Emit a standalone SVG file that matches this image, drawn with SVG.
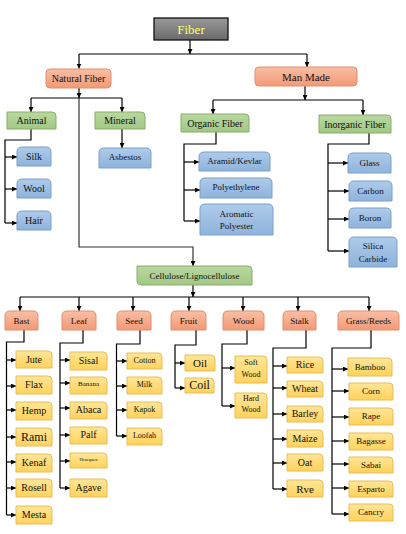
<svg xmlns="http://www.w3.org/2000/svg" width="406" height="534" viewBox="0 0 406 534">
<defs>
<linearGradient id="gGray" x1="0" y1="0" x2="0" y2="1"><stop offset="0" stop-color="#9a9a9a"/><stop offset="1" stop-color="#6a6a6a"/></linearGradient>
<linearGradient id="gSal" x1="0" y1="0" x2="0" y2="1"><stop offset="0" stop-color="#f9bea4"/><stop offset="1" stop-color="#f29a77"/></linearGradient>
<linearGradient id="gGrn" x1="0" y1="0" x2="0" y2="1"><stop offset="0" stop-color="#b9d8a0"/><stop offset="1" stop-color="#a2c884"/></linearGradient>
<linearGradient id="gBlu" x1="0" y1="0" x2="0" y2="1"><stop offset="0" stop-color="#aecbea"/><stop offset="1" stop-color="#8fb3dc"/></linearGradient>
<linearGradient id="gYel" x1="0" y1="0" x2="0" y2="1"><stop offset="0" stop-color="#ffe698"/><stop offset="1" stop-color="#ffd25c"/></linearGradient>
<marker id="ar" markerWidth="5" markerHeight="5" refX="5" refY="2.5" orient="auto" markerUnits="userSpaceOnUse"><path d="M0,0 L5,2.5 L0,5 z" fill="#000"/></marker>
</defs>
<style>
text{font-family:"Liberation Serif","Times New Roman",serif;text-anchor:middle;dominant-baseline:central;fill:#111}
.sal{fill:url(#gSal);stroke:#e48d6c;stroke-width:1}
.grn{fill:url(#gGrn);stroke:#86ad6a;stroke-width:1}
.blu{fill:url(#gBlu);stroke:#7a9fca;stroke-width:1}
.yel{fill:url(#gYel);stroke:#e8bd55;stroke-width:1}
.c path{fill:none;stroke:#000;stroke-width:1.2}
.c .a{marker-end:url(#ar)}
.f10{font-size:10px}.f9{font-size:9px}.f8{font-size:8px}.f11{font-size:11px}
</style>
<rect width="406" height="534" fill="#fff"/>

<g class="c" id="connectors">
<path class="a" d="M190,40 V54"/>
<path d="M79,54 H307"/>
<path class="a" d="M79,54 V68.5"/>
<path class="a" d="M307,54 V67"/>
<path class="a" d="M79,88 V98"/>
<path d="M31,98 H122"/>
<path class="a" d="M31,98 V112"/>
<path class="a" d="M122,98 V112"/>
<path class="a" d="M79,98 V247 H193 V266" style="stroke:#333"/>
<path class="a" d="M305,86 V100"/>
<path d="M213,100 H363"/>
<path class="a" d="M213,100 V114"/>
<path class="a" d="M363,100 V115"/>
<path d="M31,129 V140 H5 V223"/>
<path class="a" d="M5,157 H17"/>
<path class="a" d="M5,189 H17"/>
<path class="a" d="M5,223 H17"/>
<path class="a" d="M122,129 V148"/>
<path d="M216,132 V144 H184 V221"/>
<path class="a" d="M184,162 H199"/>
<path class="a" d="M184,190 H200"/>
<path class="a" d="M184,221 H200"/>
<path d="M369,133 V144 H328 V251"/>
<path class="a" d="M328,163 H348"/>
<path class="a" d="M328,191 H349"/>
<path class="a" d="M328,219 H349"/>
<path class="a" d="M328,251 H349"/>
<path class="a" d="M193,285 V297"/>
<path d="M20,297 H369"/>
<path class="a" d="M20,297 V311"/>
<path class="a" d="M79,297 V311"/>
<path class="a" d="M133,297 V311"/>
<path class="a" d="M189,297 V311"/>
<path class="a" d="M243,297 V311"/>
<path class="a" d="M298,297 V311"/>
<path class="a" d="M369,297 V311"/>
<path d="M24,330 V342 H6.5 V515"/>
<path class="a" d="M6.5,360 H16"/><path class="a" d="M6.5,386 H16"/><path class="a" d="M6.5,410 H16"/><path class="a" d="M6.5,437 H16"/><path class="a" d="M6.5,462 H16"/><path class="a" d="M6.5,488 H16"/><path class="a" d="M6.5,515 H16"/>
<path d="M83,330 V343 H60 V488"/>
<path class="a" d="M60,360 H70"/><path class="a" d="M60,383 H70"/><path class="a" d="M60,408 H70"/><path class="a" d="M60,435 H70"/><path class="a" d="M60,461 H70"/><path class="a" d="M60,488 H70"/>
<path d="M140,330 V344 H116.5 V436"/>
<path class="a" d="M116.5,361 H127"/><path class="a" d="M116.5,386 H127"/><path class="a" d="M116.5,410 H127"/><path class="a" d="M116.5,436 H127"/>
<path d="M196,330 V345 H175 V388"/>
<path class="a" d="M175,363 H185"/><path class="a" d="M175,388 H185"/>
<path d="M247,330 V344 H222 V406"/>
<path class="a" d="M222,368 H235"/><path class="a" d="M222,406 H235"/>
<path d="M306,330 V348 H273 V489"/>
<path class="a" d="M273,366 H287"/><path class="a" d="M273,388 H287"/><path class="a" d="M273,414 H287"/><path class="a" d="M273,439 H287"/><path class="a" d="M273,463 H287"/><path class="a" d="M273,489 H287"/>
<path d="M371,330 V348 H332 V514"/>
<path class="a" d="M332,369 H348"/><path class="a" d="M332,391 H349"/><path class="a" d="M332,417 H349"/><path class="a" d="M332,441 H349"/><path class="a" d="M332,464 H349"/><path class="a" d="M332,488 H349"/><path class="a" d="M332,514 H349"/>
</g>

<g id="fiber"><rect x="154" y="18" width="74" height="22" fill="url(#gGray)" stroke="#111" stroke-width="1.3"/><text x="191" y="29" font-size="13" style="fill:#ffff66">Fiber</text></g>
<g id="natural"><rect class="sal" x="46" y="69" width="65" height="19" rx="4"/><text class="f10" x="78.5" y="78.5">Natural Fiber</text></g>
<g id="manmade"><rect class="sal" x="255" y="67" width="102" height="19" rx="4"/><text class="f11" x="306" y="76.5">Man Made</text></g>

<g id="animal"><path class="grn" d="M7,112 H52 Q56,112 56,116 V129 H7 Z"/><text class="f10" x="31.5" y="120.5">Animal</text></g>
<g id="mineral"><path class="grn" d="M95,112 H141 Q145,112 145,116 V129 H95 Z"/><text class="f10" x="120" y="120.5">Mineral</text></g>
<g id="organic"><path class="grn" d="M181,114 H245 Q249,114 249,118 V132 H181 Z"/><text class="f10" x="215" y="123">Organic Fiber</text></g>
<g id="inorganic"><path class="grn" d="M319,115 H387 Q391,115 391,119 V133 H319 Z"/><text class="f10" x="355" y="124">Inorganic Fiber</text></g>

<g id="silk"><path class="blu" d="M17,152 Q17,147 22,147 H46 Q51,147 51,152 V166 H17 Z"/><text class="f10" x="34" y="156.5">Silk</text></g>
<g id="wool"><path class="blu" d="M17,184 Q17,179 22,179 H46 Q51,179 51,184 V198 H17 Z"/><text class="f10" x="34" y="188.5">Wool</text></g>
<g id="hair"><path class="blu" d="M17,216 Q17,211 22,211 H46 Q51,211 51,216 V230 H17 Z"/><text class="f10" x="34" y="220.5">Hair</text></g>
<g id="asbestos"><path class="blu" d="M99,153 Q99,148 104,148 H146 Q151,148 151,153 V168 H99 Z"/><text class="f9" x="125" y="157">Asbestos</text></g>
<g id="aramid"><path class="blu" d="M199,157 Q199,152 204,152 H265 Q270,152 270,157 V171 H199 Z"/><text class="f9" x="234.5" y="161">Aramid/Kevlar</text></g>
<g id="polyethylene"><path class="blu" d="M200,183 Q200,178 205,178 H267 Q272,178 272,183 V198 H200 Z"/><text class="f9" x="236" y="187">Polyethylene</text></g>
<g id="aromatic"><path class="blu" d="M200,209 Q200,204 205,204 H268 Q273,204 273,209 V235 H200 Z"/><text class="f9" x="236.5" y="213.5">Aromatic</text><text class="f9" x="236.5" y="226">Polyester</text></g>
<g id="glass"><path class="blu" d="M348,158 Q348,153 353,153 H386 Q391,153 391,158 V173 H348 Z"/><text class="f9" x="369.5" y="163">Glass</text></g>
<g id="carbon"><path class="blu" d="M349,186 Q349,181 354,181 H387 Q392,181 392,186 V201 H349 Z"/><text class="f9" x="370.5" y="191">Carbon</text></g>
<g id="boron"><path class="blu" d="M349,213 Q349,208 354,208 H386 Q391,208 391,213 V228 H349 Z"/><text class="f9" x="370" y="218">Boron</text></g>
<g id="silica"><path class="blu" d="M349,242 Q349,237 354,237 H392 Q397,237 397,242 V267 H349 Z"/><text class="f9" x="373" y="246">Silica</text><text class="f9" x="373" y="258.5">Carbide</text></g>

<g id="cellulose"><path class="grn" d="M137,266 H248 Q252,266 252,270 V285 H141 Q137,285 137,281 Z"/><text class="f9" x="194.5" y="275.5">Cellulose/Lignocellulose</text></g>

<g id="bast"><path class="sal" d="M5,316 Q5,311 10,311 H33 Q38,311 38,316 V330 H5 Z"/><text class="f9" x="21.5" y="320.5">Bast</text></g>
<g id="leaf"><path class="sal" d="M62,316 Q62,311 67,311 H91 Q96,311 96,316 V330 H62 Z"/><text class="f9" x="79" y="320.5">Leaf</text></g>
<g id="seed"><path class="sal" d="M117,316 Q117,311 122,311 H146 Q151,311 151,316 V330 H117 Z"/><text class="f9" x="134" y="320.5">Seed</text></g>
<g id="fruit"><path class="sal" d="M171,316 Q171,311 176,311 H201 Q206,311 206,316 V330 H171 Z"/><text class="f9" x="188.5" y="320.5">Fruit</text></g>
<g id="wood"><path class="sal" d="M223,316 Q223,311 228,311 H259 Q264,311 264,316 V330 H223 Z"/><text class="f9" x="243.5" y="320.5">Wood</text></g>
<g id="stalk"><path class="sal" d="M283,316 Q283,311 288,311 H311 Q316,311 316,316 V330 H283 Z"/><text class="f9" x="299.5" y="320.5">Stalk</text></g>
<g id="grass"><path class="sal" d="M338,316 Q338,311 343,311 H394 Q399,311 399,316 V330 H338 Z"/><text class="f9" x="368.5" y="320.5">Grass/Reeds</text></g>

<g id="jute"><path class="yel" d="M16,351 H48 Q52,351 52,355 V368 H16 Z"/><text class="f10" x="34" y="359">Jute</text></g>
<g id="flax"><path class="yel" d="M16,376 H48 Q52,376 52,380 V394 H16 Z"/><text class="f10" x="34" y="384.5">Flax</text></g>
<g id="hemp"><path class="yel" d="M16,402 H48 Q52,402 52,406 V420 H16 Z"/><text class="f10" x="34" y="410.5">Hemp</text></g>
<g id="rami"><path class="yel" d="M16,428 H48 Q52,428 52,432 V446 H16 Z"/><text x="34" y="436.5" font-size="12">Rami</text></g>
<g id="kenaf"><path class="yel" d="M16,454 H48 Q52,454 52,458 V472 H16 Z"/><text class="f10" x="34" y="462.5">Kenaf</text></g>
<g id="rosell"><path class="yel" d="M16,479 H48 Q52,479 52,483 V497 H16 Z"/><text class="f10" x="34" y="487.5">Rosell</text></g>
<g id="mesta"><path class="yel" d="M16,506 H48 Q52,506 52,510 V524 H16 Z"/><text class="f10" x="34" y="514.5">Mesta</text></g>

<g id="sisal"><path class="yel" d="M70,352 H103 Q107,352 107,356 V370 H70 Z"/><text class="f10" x="88.5" y="360.5">Sisal</text></g>
<g id="banana"><path class="yel" d="M70,377 H103 Q107,377 107,381 V394 H70 Z"/><text x="88.5" y="384" font-size="7">Banana</text></g>
<g id="abaca"><path class="yel" d="M70,402 H103 Q107,402 107,406 V419 H70 Z"/><text class="f10" x="88.5" y="409.5">Abaca</text></g>
<g id="palf"><path class="yel" d="M70,427 H103 Q107,427 107,431 V444 H70 Z"/><text class="f10" x="88.5" y="434.5">Palf</text></g>
<g id="henequen"><path class="yel" d="M70,453 H103 Q107,453 107,457 V468 H70 Z"/><text x="88.5" y="459" font-size="4.5">Henequen</text></g>
<g id="agave"><path class="yel" d="M70,479 H103 Q107,479 107,483 V497 H70 Z"/><text class="f10" x="88.5" y="487">Agave</text></g>

<g id="cotton"><path class="yel" d="M127,353 H158 Q162,353 162,357 V369 H127 Z"/><text class="f8" x="144.5" y="360">Cotton</text></g>
<g id="milk"><path class="yel" d="M127,377 H158 Q162,377 162,381 V394 H127 Z"/><text class="f8" x="144.5" y="384.5">Milk</text></g>
<g id="kapok"><path class="yel" d="M127,402 H158 Q162,402 162,406 V418 H127 Z"/><text class="f8" x="144.5" y="409.5">Kapok</text></g>
<g id="loofah"><path class="yel" d="M127,428 H158 Q162,428 162,432 V445 H127 Z"/><text class="f8" x="144.5" y="435.5">Loofah</text></g>

<g id="oil"><path class="yel" d="M185,355 H211 Q215,355 215,359 V371 H185 Z"/><text class="f11" x="200" y="362.5">Oil</text></g>
<g id="coil"><path class="yel" d="M185,378 H210 Q214,378 214,382 V393 H185 Z"/><text x="199.5" y="385" font-size="12">Coil</text></g>

<g id="softwood"><path class="yel" d="M235,356 H263 Q267,356 267,360 V383 H235 Z"/><text class="f8" x="251" y="362.5">Soft</text><text class="f8" x="251" y="374">Wood</text></g>
<g id="hardwood"><path class="yel" d="M235,393 H263 Q267,393 267,397 V418 H235 Z"/><text class="f8" x="251" y="398.5">Hard</text><text class="f8" x="251" y="409.5">Wood</text></g>

<g id="rice"><path class="yel" d="M287,357 H319 Q323,357 323,361 V373 H287 Z"/><text class="f10" x="305" y="364">Rice</text></g>
<g id="wheat"><path class="yel" d="M287,381 H319 Q323,381 323,385 V397 H287 Z"/><text class="f10" x="305" y="388">Wheat</text></g>
<g id="barley"><path class="yel" d="M287,406 H319 Q323,406 323,410 V422 H287 Z"/><text class="f10" x="305" y="413">Barley</text></g>
<g id="maize"><path class="yel" d="M287,430 H319 Q323,430 323,434 V447 H287 Z"/><text class="f10" x="305" y="438">Maize</text></g>
<g id="oat"><path class="yel" d="M287,454 H319 Q323,454 323,458 V471 H287 Z"/><text class="f10" x="305" y="462">Oat</text></g>
<g id="rve"><path class="yel" d="M287,480 H319 Q323,480 323,484 V497 H287 Z"/><text x="305" y="489" font-size="11">Rve</text></g>

<g id="bamboo"><path class="yel" d="M348,358 H388 Q392,358 392,362 V376 H348 Z"/><text class="f9" x="370" y="366.5">Bamboo</text></g>
<g id="corn"><path class="yel" d="M349,383 H389 Q393,383 393,387 V400 H349 Z"/><text class="f9" x="371" y="391">Corn</text></g>
<g id="rape"><path class="yel" d="M349,408 H389 Q393,408 393,412 V425 H349 Z"/><text class="f9" x="371" y="416">Rape</text></g>
<g id="bagasse"><path class="yel" d="M349,433 H389 Q393,433 393,437 V450 H349 Z"/><text class="f9" x="371" y="441">Bagasse</text></g>
<g id="sabai"><path class="yel" d="M349,457 H389 Q393,457 393,461 V473 H349 Z"/><text class="f9" x="371" y="464.5">Sabai</text></g>
<g id="esparto"><path class="yel" d="M349,481 H389 Q393,481 393,485 V497 H349 Z"/><text class="f9" x="371" y="488.5">Esparto</text></g>
<g id="cancry"><path class="yel" d="M349,504 H389 Q393,504 393,508 V521 H349 Z"/><text class="f9" x="371" y="512">Cancry</text></g>
</svg>
